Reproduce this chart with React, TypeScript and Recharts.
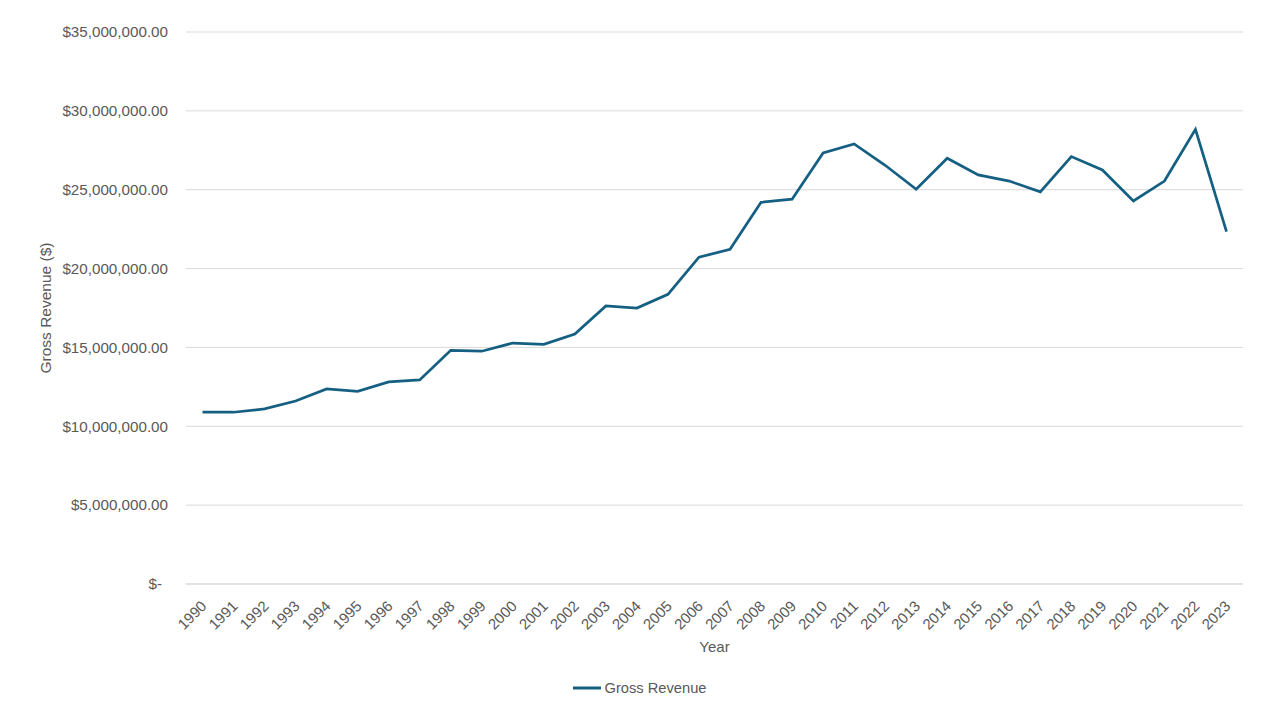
import React from 'react';
import { LineChart, Line, XAxis, YAxis, CartesianGrid, Legend } from 'recharts';

const years: string[] = [
  '1990', '1991', '1992', '1993', '1994', '1995', '1996', '1997', '1998', '1999',
  '2000', '2001', '2002', '2003', '2004', '2005', '2006', '2007', '2008', '2009',
  '2010', '2011', '2012', '2013', '2014', '2015', '2016', '2017', '2018', '2019',
  '2020', '2021', '2022', '2023',
];

const grossRevenue: number[] = [
  10890000, 10890000, 11100000, 11600000, 12370000, 12220000, 12810000, 12940000, 14820000, 14760000,
  15280000, 15200000, 15850000, 17630000, 17500000, 18370000, 20720000, 21220000, 24200000, 24400000,
  27330000, 27900000, 26550000, 25030000, 27000000, 25940000, 25550000, 24860000, 27100000, 26250000,
  24290000, 25550000, 28830000, 22340000,
];

const yTicks: number[] = [0, 5000000, 10000000, 15000000, 20000000, 25000000, 30000000, 35000000];

const data = years.map((y, i) => ({ year: y, revenue: grossRevenue[i] }));

const FONT = '"Liberation Sans", Arial, sans-serif';
const TEXT = '#595959';
const LINE = '#156082';

const fmt = (v: number) =>
  v === 0 ? '$-' : '$' + v.toLocaleString('en-US', { minimumFractionDigits: 2, maximumFractionDigits: 2 });

const YTick = (props: any) => {
  const { x, y, payload } = props;
  const v = payload.value as number;
  return (
    <text x={v === 0 ? x - 6 : x} y={y} dy="0.35em" textAnchor="end" fill={TEXT} fontSize={15.2} fontFamily={FONT}>
      {fmt(v)}
    </text>
  );
};

const XTick = (props: any) => {
  const { x, y, payload } = props;
  return (
    <g transform={`translate(${x + 5},${y + 15})`}>
      <text x={0} y={0} textAnchor="end" transform="rotate(-45)" fill={TEXT} fontSize={15} fontFamily={FONT}>
        {payload.value}
      </text>
    </g>
  );
};

const LegendContent = () => (
  <div style={{ display: 'flex', justifyContent: 'center', alignItems: 'center', fontFamily: FONT, fontSize: 14.7, color: TEXT }}>
    <svg width={28} height={10} style={{ marginRight: 3 }}>
      <line x1={0} y1={5} x2={28} y2={5} stroke={LINE} strokeWidth={3} />
    </svg>
    <span>Gross Revenue</span>
  </div>
);

export default function App() {
  return (
    <div style={{ position: 'absolute', left: 0, top: 0, width: 1280, height: 720, background: '#fff' }}>
      <LineChart width={1280} height={720} data={data} margin={{ top: 32, right: 37, left: 0, bottom: 0 }}>
        <CartesianGrid vertical={false} stroke="#d9d9d9" strokeWidth={1} />
        <XAxis
          dataKey="year"
          interval={0}
          height={96}
          tickLine={false}
          axisLine={{ stroke: '#d9d9d9' }}
          padding={{ left: 16.5, right: 16.5 }}
          tick={<XTick />}
          label={{ value: 'Year', position: 'insideBottom', offset: 28, fill: TEXT, fontSize: 15, fontFamily: FONT }}
        />
        <YAxis
          width={186}
          domain={[0, 35000000]}
          ticks={yTicks}
          interval={0}
          tickLine={false}
          axisLine={false}
          tickSize={0}
          tickMargin={18}
          tick={<YTick />}
          label={{ value: 'Gross Revenue ($)', angle: -90, position: 'center', dx: -48, fill: TEXT, fontSize: 15.5, fontFamily: FONT }}
        />
        <Legend
          verticalAlign="bottom"
          height={40}
          content={<LegendContent />}
          wrapperStyle={{ left: 0, width: 1280 }}
        />
        <Line
          type="linear"
          dataKey="revenue"
          name="Gross Revenue"
          stroke={LINE}
          strokeWidth={2.75}
          dot={false}
          activeDot={false}
          isAnimationActive={false}
        />
      </LineChart>
    </div>
  );
}
